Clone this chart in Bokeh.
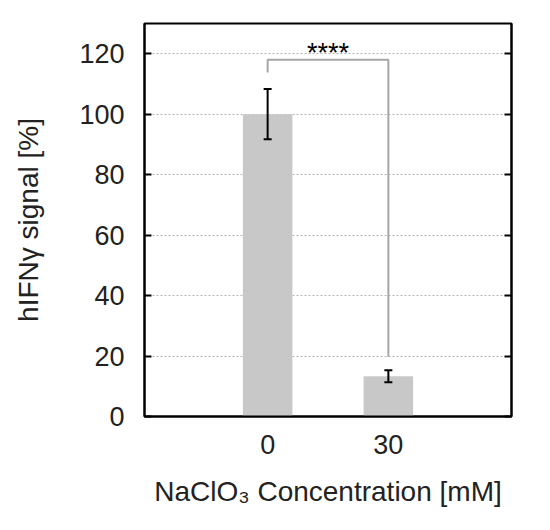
from bokeh.plotting import figure
from bokeh.models import (ColumnDataSource, FactorRange, Range1d, LinearAxis,
                          FixedTicker, Whisker, TeeHead)
from bokeh.transform import dodge
from bokeh.core.properties import value
from bokeh.embed import file_html
from bokeh.resources import INLINE

# ---- data ----
concentrations = ["0", "30"]
signal = [100.0, 13.3]
error = [8.3, 2.0]
y_ticks = [0, 20, 40, 60, 80, 100, 120]
sig_pair = ["0", "30"]
sig_bracket_top = 118.0
sig_leg_ends = [113.8, 19.8]
sig_label = "****"

FONT = "Liberation Sans"

src = ColumnDataSource(dict(
    x=concentrations,
    top=signal,
    upper=[s + e for s, e in zip(signal, error)],
    lower=[s - e for s, e in zip(signal, error)],
))

p = figure(
    x_range=FactorRange(factors=concentrations, range_padding=0.52,
                        range_padding_units="absolute"),
    y_range=Range1d(0, 130),
    width=541, height=516,
    frame_width=367, frame_height=393,
    min_border_left=144, min_border_top=23, min_border_right=30, min_border_bottom=20,
    output_backend="svg", toolbar_location=None,
)
p.background_fill_color = "white"
p.border_fill_color = "white"
p.outline_line_color = "black"
p.outline_line_width = 2

p.vbar(x="x", top="top", width=0.41, source=src,
       fill_color="#c8c8c8", line_color=None)

p.add_layout(Whisker(source=src, base="x", upper="upper", lower="lower",
                     level="overlay",
                     line_color="black", line_width=2,
                     upper_head=TeeHead(size=8, line_color="black", line_width=2),
                     lower_head=TeeHead(size=8, line_color="black", line_width=2)))

# significance bracket
p.line(x=[sig_pair[0], sig_pair[0], sig_pair[1], sig_pair[1]],
       y=[sig_leg_ends[0], sig_bracket_top, sig_bracket_top, sig_leg_ends[1]],
       line_color="#a6a6a6", line_width=2)
sig_src = ColumnDataSource(dict(x=[sig_pair[0]], y=[sig_bracket_top], t=[sig_label]))
p.text(x=dodge("x", 0.5, range=p.x_range), y="y", text="t", source=sig_src,
       text_align="center", text_baseline="alphabetic", y_offset=-7,
       text_font=value(FONT), text_font_size="27px", text_color="black")

# grid
p.xgrid.grid_line_color = None
p.ygrid.grid_line_color = "#b4b4b4"
p.ygrid.grid_line_dash = "2 2"
p.ygrid.grid_line_width = 1
p.ygrid.ticker = FixedTicker(ticks=y_ticks)

# y axis (left)
ya = p.yaxis[0]
ya.ticker = FixedTicker(ticks=y_ticks)
ya.axis_label = "hIFNγ signal [%]"
ya.axis_label_text_font = FONT
ya.axis_label_text_font_size = "28px"
ya.axis_label_text_font_style = "normal"
ya.axis_label_text_color = "#222222"
ya.axis_label_standoff = 32
ya.major_label_text_font = FONT
ya.major_label_text_font_size = "27px"
ya.major_label_text_color = "#222222"
ya.major_label_standoff = 20
ya.major_tick_in = 7
ya.major_tick_out = 0
ya.major_tick_line_width = 2
ya.minor_tick_line_color = None
ya.axis_line_width = 2
ya.axis_line_color = "black"

# right mirror axis
ra = LinearAxis(ticker=FixedTicker(ticks=y_ticks))
ra.major_label_text_color = None
ra.major_label_text_font_size = "1px"
ra.major_tick_in = 7
ra.major_tick_out = 0
ra.major_tick_line_width = 2
ra.minor_tick_line_color = None
ra.axis_line_width = 2
ra.axis_line_color = "black"
p.add_layout(ra, "right")

# x axis
xa = p.xaxis[0]
xa.axis_label = "NaClO₃ Concentration [mM]"
xa.axis_label_text_font = FONT
xa.axis_label_text_font_size = "28px"
xa.axis_label_text_font_style = "normal"
xa.axis_label_text_color = "#222222"
xa.axis_label_standoff = 19
xa.major_label_text_font = FONT
xa.major_label_text_font_size = "27px"
xa.major_label_text_color = "#222222"
xa.major_label_standoff = 18
xa.major_tick_in = 0
xa.major_tick_out = 0
xa.axis_line_width = 2
xa.axis_line_color = "black"

open("out.html", "w").write(file_html(p, INLINE))
